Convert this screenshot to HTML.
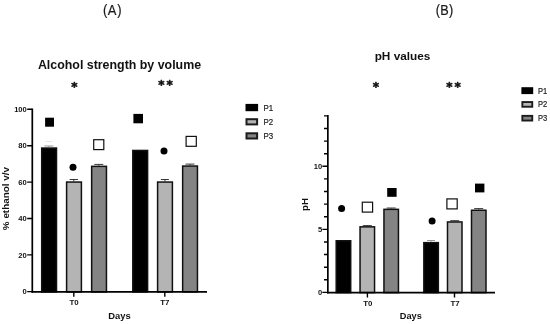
<!DOCTYPE html>
<html><head><meta charset="utf-8"><title>Figure</title>
<style>
html,body{margin:0;padding:0;background:#fff;}
body{width:550px;height:324px;overflow:hidden;}
svg{display:block;font-family:"Liberation Sans",sans-serif;filter:blur(0.4px);}
.b{font-weight:bold;}
.st{font-family:"DejaVu Sans",sans-serif;font-size:12px;fill:#111;stroke:#111;stroke-width:0.55px;stroke-linejoin:round;}
</style></head><body>
<svg width="550" height="324" viewBox="0 0 550 324">
<rect width="550" height="324" fill="#fff"/>
<text transform="translate(112.5 15.4) scale(0.9 1)" font-size="14.4" text-anchor="middle" fill="#1a1a1a" stroke="#1a1a1a" stroke-width="0.2" letter-spacing="0.7">(A)</text>
<text transform="translate(444.6 15.4) scale(0.88 1)" font-size="14.4" text-anchor="middle" fill="#1a1a1a" stroke="#1a1a1a" stroke-width="0.2" letter-spacing="0.4">(B)</text>
<g id="chartA">
<text class="b" x="119.5" y="69.3" font-size="12.4" text-anchor="middle" fill="#111">Alcohol strength by volume</text>
<text class="b st" x="71.28" y="90.64">*</text><text class="b st" x="158.28" y="89.14">*</text><text class="b st" x="166.53" y="89.14">*</text>
<g stroke="#111" stroke-width="1.5">
<rect x="41.70" y="148.05" width="14.80" height="143.85" fill="#000"/>
<rect x="66.60" y="182.05" width="14.80" height="109.85" fill="#b4b4b4"/>
<rect x="91.65" y="166.35" width="14.80" height="125.55" fill="#848484"/>
<rect x="132.80" y="150.45" width="14.80" height="141.45" fill="#000"/>
<rect x="157.60" y="182.05" width="14.80" height="109.85" fill="#b4b4b4"/>
<rect x="182.65" y="166.05" width="14.80" height="125.85" fill="#848484"/>
</g>
<g stroke-width="0.9" fill="none">
<path d="M48.9 147.3V146.0M44.4 146.0H53.4" stroke="#8a8a8a"/>
<path d="M45.5 141.5H52.5" stroke="#e4e4e4"/>
<path d="M73.8 181.3V179.5M69.6 179.5H78.0" stroke="#222"/>
<path d="M98.8 165.6V164.4M94.3 164.4H103.3" stroke="#222"/>
<path d="M164.9 181.3V179.5M160.9 179.5H168.9" stroke="#222"/>
<path d="M190.0 165.3V164.1M185.5 164.1H194.5" stroke="#222"/>
</g>
<g stroke="#000" fill="none">
<path d="M32.3 108.5V292.7" stroke-width="1.7"/>
<path d="M31.55 291.9H207" stroke-width="1.6"/>
<path d="M27.2 109.3H32.3M27.2 145.7H32.3M27.2 182.1H32.3M27.2 218.5H32.3M27.2 254.9H32.3M27.2 291.59999999999997H32.3" stroke-width="1.4"/>
<path d="M73.8 291.9V296.8M164.8 291.9V296.8" stroke-width="1.4"/>
</g>
<g class="b" font-size="7.6" text-anchor="end" fill="#111">
<text x="26.8" y="112.0">100</text>
<text x="26.8" y="148.4">80</text>
<text x="26.8" y="184.8">60</text>
<text x="26.8" y="221.2">40</text>
<text x="26.8" y="257.6">20</text>
<text x="26.8" y="294.3">0</text>
</g>
<g class="b" font-size="7.9" text-anchor="middle" fill="#111"><text x="74.1" y="304.6">T0</text><text x="164.9" y="304.6">T7</text></g>
<text class="b" x="119.5" y="318.9" font-size="9.4" text-anchor="middle" fill="#111">Days</text>
<text class="b" transform="translate(8.5 198.6) rotate(-90)" font-size="9.9" text-anchor="middle" fill="#111">% ethanol v/v</text>
<rect x="45.1" y="117.7" width="8.9" height="9" fill="#000"/>
<circle cx="73" cy="167.2" r="3.5" fill="#000"/>
<rect x="93.7" y="139.7" width="10.1" height="9.9" fill="#fff" stroke="#111" stroke-width="1.2"/>
<rect x="133.4" y="113.9" width="9.6" height="9.4" fill="#000"/>
<circle cx="164" cy="151.1" r="3.5" fill="#000"/>
<rect x="186.1" y="136.4" width="10.2" height="9.9" fill="#fff" stroke="#111" stroke-width="1.2"/>
<rect x="245.5" y="103.9" width="12.6" height="7.3" fill="#000"/>
<rect x="246.5" y="119.2" width="10.6" height="5.2" fill="#b4b4b4" stroke="#1c1c1c" stroke-width="2"/>
<rect x="246.5" y="133.3" width="10.6" height="5.2" fill="#848484" stroke="#1c1c1c" stroke-width="2"/>
<g font-size="8.8" fill="#222" stroke="#222" stroke-width="0.2"><text transform="translate(263.5 110.6) scale(0.9 1)">P1</text><text transform="translate(263.5 124.9) scale(0.9 1)">P2</text><text transform="translate(263.5 139.1) scale(0.9 1)">P3</text></g>
</g>
<g id="chartB">
<text class="b" x="402.5" y="59.7" font-size="11.8" text-anchor="middle" fill="#111">pH values</text>
<text class="b st" x="372.68" y="90.64">*</text><text class="b st" x="446.18" y="90.74">*</text><text class="b st" x="454.38" y="90.74">*</text>
<g stroke="#111" stroke-width="1.5">
<rect x="336.20" y="240.75" width="14.50" height="51.85" fill="#000"/>
<rect x="360.05" y="226.85" width="14.50" height="65.75" fill="#b4b4b4"/>
<rect x="383.95" y="209.35" width="14.50" height="83.25" fill="#848484"/>
<rect x="423.85" y="242.65" width="14.50" height="49.95" fill="#000"/>
<rect x="447.50" y="221.95" width="14.50" height="70.65" fill="#b4b4b4"/>
<rect x="471.50" y="210.25" width="14.50" height="82.35" fill="#848484"/>
</g>
<g stroke-width="0.9" fill="none">
<path d="M367.3 226.1V225.6M362.8 225.6H371.8" stroke="#222"/>
<path d="M391.2 208.6V208.0M386.7 208.0H395.7" stroke="#222"/>
<path d="M431.0 241.9V240.5M427.0 240.5H435.0" stroke="#8a8a8a"/>
<path d="M454.7 221.2V220.7M450.2 220.7H459.2" stroke="#222"/>
<path d="M478.7 209.5V208.6M474.2 208.6H483.2" stroke="#222"/>
</g>
<g stroke="#000" fill="none">
<path d="M327.85 115V293.40000000000003" stroke-width="1.7"/>
<path d="M327.15 292.6H495" stroke-width="1.6"/>
<path d="M322.4 292.40H328M322.4 229.35H328M322.4 166.30H328" stroke-width="1.4"/>
<path d="M324 279.79H328M324 267.18H328M324 254.57H328M324 241.96H328M324 216.74H328M324 204.13H328M324 191.52H328M324 178.91H328M324 153.69H328M324 141.08H328M324 128.47H328M324 115.86H328" stroke-width="1.4"/>
<path d="M367.4 292.6V297.6M454.5 292.6V297.6" stroke-width="1.4"/>
</g>
<g class="b" font-size="7.6" text-anchor="end" fill="#111">
<text x="322.2" y="295.2">0</text>
<text x="322.2" y="232.1">5</text>
<text x="322.2" y="169.1">10</text>
</g>
<g class="b" font-size="7.9" text-anchor="middle" fill="#111"><text x="367.8" y="305.8">T0</text><text x="455" y="305.8">T7</text></g>
<text class="b" x="410.8" y="319.0" font-size="9.2" text-anchor="middle" fill="#111">Days</text>
<text class="b" transform="translate(308.0 204.5) rotate(-90)" font-size="9.6" text-anchor="middle" fill="#111">pH</text>
<circle cx="341.6" cy="208.5" r="3.5" fill="#000"/>
<rect x="362.3" y="202.2" width="10.3" height="9.9" fill="#fff" stroke="#111" stroke-width="1.2"/>
<rect x="387.2" y="188" width="9.4" height="8.8" fill="#000"/>
<circle cx="432.1" cy="221" r="3.5" fill="#000"/>
<rect x="446.9" y="198.9" width="10.3" height="10" fill="#fff" stroke="#111" stroke-width="1.2"/>
<rect x="475" y="183.6" width="9.4" height="8.8" fill="#000"/>
<rect x="521.4" y="87.2" width="11.8" height="6.9" fill="#000"/>
<rect x="522.35" y="102.05" width="9.9" height="4.7" fill="#b4b4b4" stroke="#1c1c1c" stroke-width="1.9"/>
<rect x="522.35" y="115.85" width="9.9" height="4.7" fill="#848484" stroke="#1c1c1c" stroke-width="1.9"/>
<g font-size="8.4" fill="#222" stroke="#222" stroke-width="0.2"><text transform="translate(538 93.5) scale(0.9 1)">P1</text><text transform="translate(538 107.3) scale(0.9 1)">P2</text><text transform="translate(538 121.0) scale(0.9 1)">P3</text></g>
</g>
</svg>
</body></html>
